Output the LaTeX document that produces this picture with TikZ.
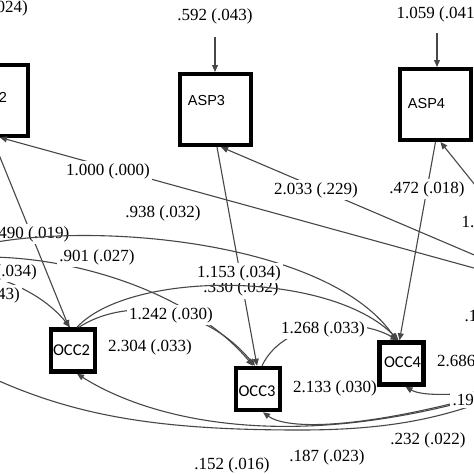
\documentclass[tikz,border=0pt]{standalone}
\usepackage{fontspec}
\setmainfont{Liberation Serif}
\newfontfamily\aspfont{Liberation Sans}
\newfontfamily\occfont{Carlito}
\usetikzlibrary{arrows.meta}
\begin{document}
\begin{tikzpicture}[x=1pt,y=-1pt,
  conn/.style={draw=black!72, line width=1.1pt},
  arr/.style={conn, -{Triangle[length=7pt,width=6pt]}},
  aspbox/.style={draw=black, line width=4pt, minimum width=71pt, minimum height=71pt, inner sep=0pt, fill=white},
  occbox/.style={draw=black, line width=4.5pt, minimum width=44pt, minimum height=42pt, inner sep=0pt, fill=white},
  asptext/.style={font=\aspfont\fontsize{14.5}{16}\selectfont, inner sep=0pt},
  occtext/.style={font=\occfont\fontsize{16.5}{18}\selectfont, inner sep=0pt},
  lab/.style={font=\fontsize{17}{19}\selectfont, inner sep=2.5pt},
  labw/.style={lab, fill=white},
]
\useasboundingbox (0,0) rectangle (474,474);
\clip (0,0) rectangle (474,474);
\fill[white] (0,0) rectangle (474,474);

% boxes
\node[aspbox] (asp2) at (-8,100) {};
\node[aspbox] (asp3) at (215,109.5) {};
\node[aspbox] (asp4) at (435.5,104.5) {};
\node[asptext] (asp2t) at (-11.5,98) {ASP2};
\node[asptext] (asp3t) at (206.5,101) {ASP3};
\node[asptext] (asp4t) at (426.5,103.5) {ASP4};
\node[occbox] (occ2) at (73,350.5) {};
\node[occbox] (occ3) at (258,389) {};
\node[occbox] (occ4) at (401.5,363.5) {};
\node[occtext] (occ2t) at (71.5,350) {OCC2};
\node[occtext] (occ3t) at (257,391.5) {OCC3};
\node[occtext] (occ4t) at (402.5,362) {OCC4};

% off-canvas ends
\coordinate (fA) at (561,292);
\coordinate (fO) at (530,382);
\coordinate (e3) at (215,37);
\coordinate (e4) at (437,33);
\coordinate (lD) at (-60,258);
\coordinate (l901) at (-40,258);
\coordinate (l034) at (-60,268);
\coordinate (lL1) at (-40,362);

% error arrows
\node[lab] (e3lab) at (215,16) {.592 (.043)};
\node[lab, anchor=west] (e4lab) at (394,14) {1.059 (.041)};
\node[lab, anchor=east] (e2lab) at (30.5,8) {(.024)};
\draw[arr] (e3) -- (asp3.north);
\draw[arr] (e4) -- ([xshift=1.5pt]asp4.north);

% straight connectors
\draw[arr] (fA) -- ([xshift=8pt]asp2.south);
\draw[arr] (fA) -- ([xshift=6pt]asp3.south);
\draw[arr] (fA) -- ([xshift=5pt]asp4.south);
\draw[arr] (asp2.south) -- ([xshift=-4pt]occ2.north);
\draw[arr] ([xshift=2pt]asp3.south) -- ([xshift=-1pt]occ3.north);
\draw[arr] (asp4.south) -- ([xshift=-2pt]occ4.north);

% curves into OCC tops
\draw[arr] (l901) .. controls (60,250) and (190,290) .. ([xshift=-5pt]occ3.north);
\draw[arr] (l034) .. controls (-10,270) and (40,290) .. ([xshift=-3pt]occ2.north);
\draw[arr] ([xshift=6pt]occ2.north) .. controls (120,300) and (200,300) .. ([xshift=-3pt]occ3.north);
\draw[arr] ([xshift=4pt]occ3.north) .. controls (285,318) and (360,318) .. ([xshift=-4pt]occ4.north);

% bottom curves
\draw[arr] (fO) .. controls (480,395) and (425,398) .. ([xshift=4pt]occ4.south);
\draw[arr] (fO) .. controls (300,460) and (150,420) .. ([xshift=4pt]occ2.south);
\draw[arr] (fO) .. controls (380,428) and (290,432) .. ([xshift=5pt]occ3.south);
\draw[conn] (lL1) .. controls (60,415) and (150,430) .. (300,430) .. controls (400,430) and (460,415) .. (fO);

% labels
\node[labw] (l1000) at (108,171) {1.000 (.000)};
\node[lab] (l938) at (163,213) {.938 (.032)};
\node[labw, anchor=east] (l490) at (72,234) {.490 (.019)};
\node[labw] (l901t) at (97,257) {.901 (.027)};
\node[labw, anchor=east] (l034t) at (39.5,272) {(.034)};
\node[labw, anchor=east] (l043t) at (22.5,295) {(.043)};
\node[labw] (l1242) at (171,315) {1.242 (.030)};
\node[lab] (l2304) at (150,347) {2.304 (.033)};
\node[labw] (l330) at (241,288.5) {.330 (.032)};
\node[labw] (l2033) at (316,190) {2.033 (.229)};
\node[labw] (l472) at (427,189) {.472 (.018)};
\node[lab, anchor=west] (l1r) at (459,222) {1.};
\node[lab, anchor=west] (l1r2) at (462,316) {.1};
\node[labw] (l1268) at (323,329) {1.268 (.033)};
\node[lab, anchor=west] (l2686) at (434.5,361) {2.686};
\node[lab] (l2133) at (335,388) {2.133 (.030)};
\node[labw, anchor=west] (l19) at (450,400) {.19};
\node[labw] (l232) at (428,440) {.232 (.022)};
\node[lab] (l187) at (327,457) {.187 (.023)};
\node[lab] (l152) at (232,465) {.152 (.016)};

% curves drawn over labels
\draw[arr] (lD) .. controls (30,215) and (320,230) .. ([xshift=-5pt]occ4.north);
\draw[arr] ([xshift=4pt]occ2.north) .. controls (130,270) and (330,270) .. ([xshift=-3pt]occ4.north);
\node[labw] (l1153) at (239,273) {1.153 (.034)};
\end{tikzpicture}
\end{document}
